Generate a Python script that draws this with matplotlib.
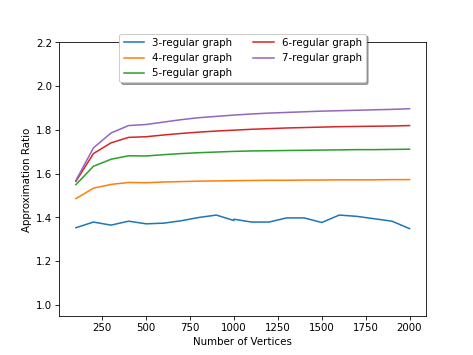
import matplotlib
matplotlib.use("Agg")
import matplotlib.pyplot as plt

vertices = [100, 200, 300, 400, 500, 600, 700, 800, 900, 1000,
            1100, 1200, 1300, 1400, 1500, 1600, 1700, 1800, 1900, 2000]
vertices_3 = [100, 200, 300, 400, 500, 600, 700, 800, 900, 1000, 1000,
              1100, 1200, 1300, 1400, 1500, 1600, 1700, 1800, 1900, 2000]

ratio_3 = [1.353, 1.379, 1.365, 1.383, 1.371, 1.374, 1.385, 1.400, 1.411, 1.386, 1.392,
           1.379, 1.379, 1.398, 1.398, 1.377, 1.411, 1.405, 1.394, 1.383, 1.349]
ratio_4 = [1.486, 1.534, 1.551, 1.560, 1.559, 1.562, 1.564, 1.566, 1.567, 1.568,
           1.569, 1.570, 1.570, 1.571, 1.571, 1.572, 1.572, 1.572, 1.573, 1.573]
ratio_5 = [1.550, 1.634, 1.666, 1.682, 1.681, 1.687, 1.692, 1.696, 1.699, 1.702,
           1.704, 1.705, 1.706, 1.707, 1.708, 1.709, 1.710, 1.710, 1.711, 1.712]
ratio_6 = [1.565, 1.692, 1.741, 1.766, 1.769, 1.777, 1.784, 1.790, 1.795, 1.799,
           1.803, 1.806, 1.809, 1.811, 1.813, 1.815, 1.816, 1.817, 1.818, 1.820]
ratio_7 = [1.569, 1.718, 1.786, 1.820, 1.825, 1.836, 1.847, 1.856, 1.862, 1.868,
           1.873, 1.877, 1.880, 1.883, 1.886, 1.888, 1.890, 1.892, 1.894, 1.897]

labels = ["3-regular graph", "4-regular graph", "5-regular graph",
          "6-regular graph", "7-regular graph"]

fig, ax = plt.subplots(figsize=(6.4, 4.8), dpi=74)
ax.plot(vertices_3, ratio_3, label=labels[0])
ax.plot(vertices, ratio_4, label=labels[1])
ax.plot(vertices, ratio_5, label=labels[2])
ax.plot(vertices, ratio_6, label=labels[3])
ax.plot(vertices, ratio_7, label=labels[4])

ax.set_ylim(0.95, 2.2)
ax.set_xlabel("Number of Vertices")
ax.set_ylabel("Approximation Ratio")
ax.legend(loc="upper center", bbox_to_anchor=(0.5, 1.05), ncol=2,
          fancybox=True, shadow=True)

fig.savefig("out.png", dpi=74)
